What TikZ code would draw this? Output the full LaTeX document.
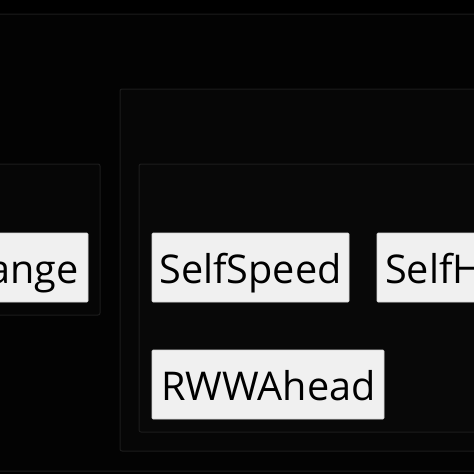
\documentclass[tikz,border=0pt]{standalone}
\usepackage{fontspec}
\setmainfont{Open Sans}
\definecolor{bgblack}{HTML}{000000}
\definecolor{frameline}{HTML}{1C1C1C}
\definecolor{fillA}{HTML}{030303}
\definecolor{fillB}{HTML}{060606}
\definecolor{fillC}{HTML}{080808}
\definecolor{boxfill}{HTML}{F0F0F0}
\definecolor{boxline}{HTML}{D4D4D4}
\tikzset{
  frame/.style={draw=frameline, line width=1pt, rounded corners=2pt},
  label box/.style={draw=boxline, fill=boxfill, line width=0.6pt, rounded corners=1pt},
  label text/.style={font=\fontsize{39.6}{44}\selectfont, text=black, inner sep=0pt}
}
\begin{document}
\begin{tikzpicture}[x=1pt,y=-1pt]
\fill[bgblack] (0,0) rectangle (474,474);
\useasboundingbox (0,0) rectangle (474,474);
\clip (0,0) rectangle (474,474);
% outer container
\draw[frame, fill=fillA] (-10,14) rectangle (490,471);
% left group
\draw[frame, fill=fillB] (-10,164) rectangle (100,315);
% right groups
\draw[frame, fill=fillB] (120,89) rectangle (490,451);
\draw[frame, fill=fillC] (139,164) rectangle (490,432);
% boxes
\draw[label box] (-20,233) rectangle (88,302);
\node[label text, anchor=base east] (ange) at (79,283) {ange};
\draw[label box] (152,233) rectangle (349,302);
\node[label text, anchor=base] (selfspeed) at (250.5,283) {SelfSpeed};
\draw[label box] (377,233) rectangle (490,302);
\node[label text, anchor=base west] (selfh) at (385,283) {SelfH};
\draw[label box] (152,350) rectangle (384,419);
\node[label text, anchor=base] (rwwahead) at (268.5,400) {RWWAhead};
\end{tikzpicture}
\end{document}
